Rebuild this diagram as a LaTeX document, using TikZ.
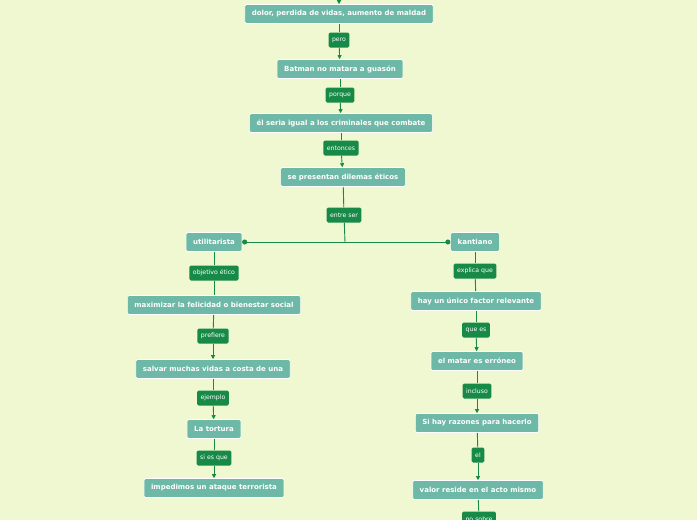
\documentclass[tikz,border=0pt]{standalone}
\usepackage{fontspec}
\setmainfont{DejaVu Sans}
\usetikzlibrary{arrows.meta}
\definecolor{bg}{HTML}{EFF8D0}
\definecolor{nodec}{HTML}{6DB8A6}
\definecolor{labc}{HTML}{178A48}
\tikzset{
 topic/.style={draw=white,line width=0.6pt,fill=nodec,rounded corners=1.5pt,text=white,font=\bfseries\fontsize{7}{8}\selectfont,minimum height=19pt,inner xsep=7pt,inner ysep=0pt},
 lab/.style={fill=labc,rounded corners=1.5pt,text=white,font=\fontsize{6.2}{7}\selectfont,minimum height=15pt,inner xsep=3.5pt,inner ysep=0pt},
 con/.style={draw=labc,line width=0.9pt},
 arr/.style={con,-{Triangle[length=4pt,width=4pt]}}
}
\begin{document}
\begin{tikzpicture}[x=1pt,y=-1pt]
\path[fill=bg] (0,0) rectangle (697,520);
\clip (0,0) rectangle (697,520);
\node[topic] (dolor) at (339,14) {dolor, perdida de vidas, aumento de maldad};
\node[lab] (pero) at (339,40) {pero};
\node[topic] (bat) at (340,69) {Batman no matara a guasón};
\node[lab] (porque) at (340,95) {porque};
\node[topic] (el) at (341,123) {él seria igual a los criminales que combate};
\node[lab] (ent) at (341,148) {entonces};
\node[topic] (se) at (343,177) {se presentan dilemas éticos};
\node[lab] (entre) at (344,215) {entre ser};
\node[topic] (util) at (214,242) {utilitarista};
\node[topic] (kant) at (475,242) {kantiano};
\node[lab] (obj) at (214,273) {objetivo ético};
\node[topic] (max) at (214,305) {maximizar la felicidad o bienestar social};
\node[lab] (pref) at (213,336) {prefiere};
\node[topic] (salv) at (213,369) {salvar muchas vidas a costa de una};
\node[lab] (ej) at (213,398) {ejemplo};
\node[topic] (tort) at (214,429) {La tortura};
\node[lab] (sies) at (214,458) {si es que};
\node[topic] (imp) at (214,488) {impedimos un ataque terrorista};
\node[lab] (expl) at (475,271) {explica que};
\node[topic] (hay) at (476,301) {hay un único factor relevante};
\node[lab] (quees) at (476,330) {que es};
\node[topic] (mat) at (477,361) {el matar es erróneo};
\node[lab] (inc) at (477,391) {incluso};
\node[topic] (si) at (477,423) {Si hay razones para hacerlo};
\node[lab] (ell) at (478,455) {el};
\node[topic] (val) at (478,490) {valor reside en el acto mismo};
\node[lab] (nos) at (479,519) {no sobre};
\coordinate (top) at (339,-5);
\coordinate (br) at (345,242);
\draw[arr] (top) -- (dolor);
\draw[con] (dolor) -- (pero); \draw[arr] (pero) -- (bat);
\draw[con] (bat) -- (porque); \draw[arr] (porque) -- (el);
\draw[con] (el) -- (ent); \draw[arr] (ent) -- (se);
\draw[con] (se) -- (entre); \draw[con] (entre) -- (br);
\draw[con,-{Circle[length=5pt]}] (br) -- (util.east);
\draw[con,-{Circle[length=5pt]}] (br) -- (kant.west);
\draw[con] (util) -- (obj); \draw[con] (obj) -- (max);
\draw[con] (max) -- (pref); \draw[arr] (pref) -- (salv);
\draw[con] (salv) -- (ej); \draw[arr] (ej) -- (tort);
\draw[con] (tort) -- (sies); \draw[arr] (sies) -- (imp);
\draw[con] (kant) -- (expl); \draw[con] (expl) -- (hay);
\draw[con] (hay) -- (quees); \draw[arr] (quees) -- (mat);
\draw[con] (mat) -- (inc); \draw[arr] (inc) -- (si);
\draw[con] (si) -- (ell); \draw[arr] (ell) -- (val);
\draw[con] (val) -- (nos);
\end{tikzpicture}
\end{document}
